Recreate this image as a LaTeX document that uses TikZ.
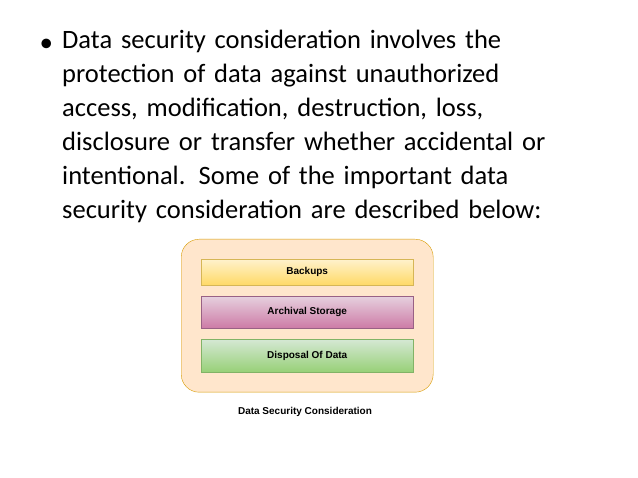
\documentclass[tikz,border=0pt]{standalone}
\usepackage{fontspec}
\setmainfont{Carlito}
\newfontfamily\arialf{Liberation Sans}
\definecolor{outerfill}{HTML}{FFE6CC}
\definecolor{outerdraw}{HTML}{D79B00}
\tikzset{
 bar/.style={draw, minimum width=212pt, anchor=north west, font=\arialf\bfseries\fontsize{10}{12}\selectfont, inner sep=0pt},
}
\begin{document}
\begin{tikzpicture}[x=1pt,y=-1pt]
\useasboundingbox (0,0) rectangle (638,478);
\node[anchor=base west, font=\fontsize{27}{34}\selectfont] (bul) at (36,52) {•};
\node[anchor=north west, align=left, inner sep=0pt, text width=560pt, font=\fontsize{26.5}{34}\selectfont] (txt) at (62,30) {Data security consideration involves the\\protection of data against unauthorized\\access, modification, destruction, loss,\\disclosure or transfer whether accidental or\\intentional. Some of the important data\\security consideration are described below:};
\node[draw=outerdraw, fill=outerfill, rounded corners=18pt, minimum width=252pt, minimum height=153pt, anchor=north west] (outer) at (181,239) {};
\node[bar, draw={rgb,255:red,214;green,182;blue,86}, top color={rgb,255:red,255;green,242;blue,204}, bottom color={rgb,255:red,255;green,217;blue,102}, minimum height=26pt] (b1) at (201,259) {Backups};
\node[bar, draw={rgb,255:red,153;green,97;blue,133}, top color={rgb,255:red,230;green,208;blue,222}, bottom color={rgb,255:red,205;green,123;blue,166}, minimum height=32pt] (b2) at (201,296) {Archival Storage};
\node[bar, draw={rgb,255:red,130;green,179;blue,102}, top color={rgb,255:red,213;green,232;blue,212}, bottom color={rgb,255:red,151;green,208;blue,119}, minimum height=33pt] (b3) at (201,339) {Disposal Of Data};
\node[font=\arialf\bfseries\fontsize{10}{12}\selectfont] (cap) at (305,412) {Data Security Consideration};
\end{tikzpicture}
\end{document}
